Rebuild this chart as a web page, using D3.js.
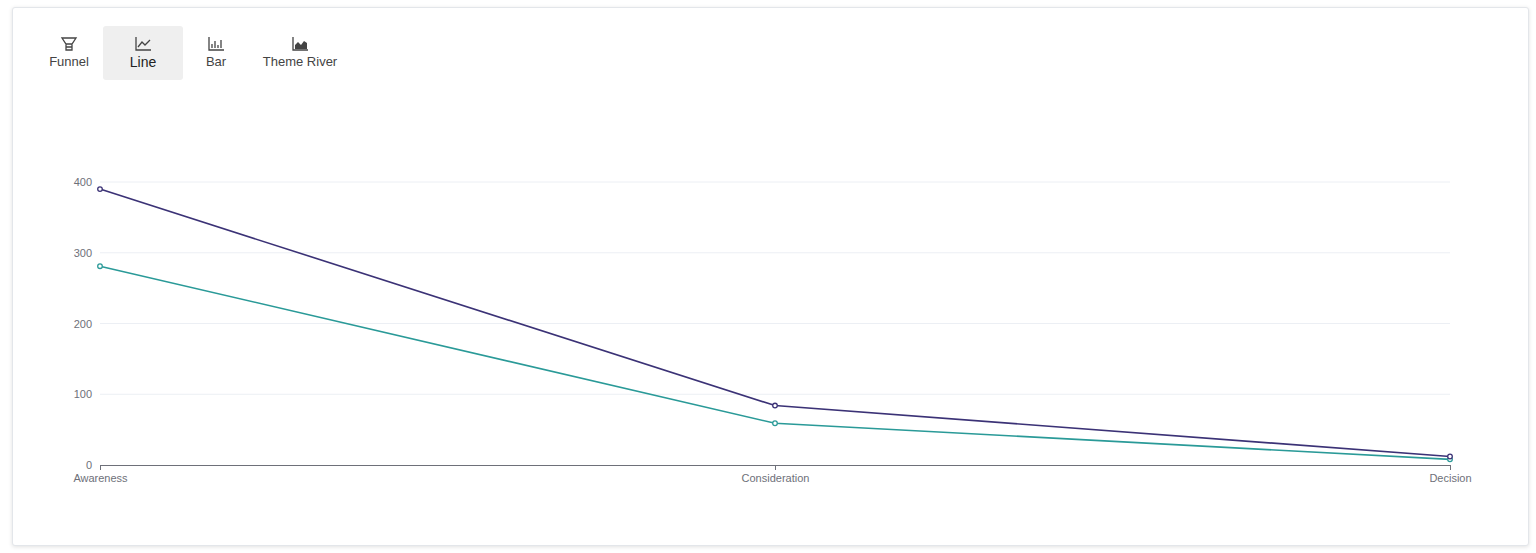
<!DOCTYPE html>
<html><head><meta charset="utf-8">
<script src="https://cdn.jsdelivr.net/npm/d3@7"></script>
<style>
body{margin:0;background:#fff;font-family:"Helvetica Neue",Arial,"Liberation Sans",sans-serif;}
#card{position:absolute;left:12px;top:7px;width:1515px;height:537px;border:1px solid #e3e6ea;border-radius:3px;box-shadow:0 1px 4px rgba(0,0,0,0.12);background:#fff;}
.tab{position:absolute;top:18px;height:54px;text-align:center;font-size:13px;color:#444;border-radius:3px;}
.tab svg{display:block;margin:10px auto 2px;}
.tab.on{background:#efefef;color:#222;font-size:14px;}
</style></head><body>
<div id="card"></div>
<svg id="chart" width="1536" height="553" style="position:absolute;left:0;top:0"></svg>
<script>
var stages = ['Awareness', 'Consideration', 'Decision'];
var seriesA = [390, 84, 12];
var seriesB = [281, 59, 8];
var yTicks = [0, 100, 200, 300, 400];
var tabs = ['Funnel', 'Line', 'Bar', 'Theme River'];
var tabX = [40, 102, 188, 252];
var tabW = [56, 80, 54, 94];

var card = d3.select('#card');
tabs.forEach(function(t, i) {
  var d = card.append('div').attr('class', 'tab' + (i == 1 ? ' on' : ''))
    .style('left', (tabX[i] - 12) + 'px').style('width', tabW[i] + 'px');
  var ic = d.append('svg').attr('width', 18).attr('height', 16);
  var g = ic.append('g').attr('stroke', '#444').attr('fill', 'none').attr('stroke-width', 1.3);
  if (i == 0) {
    g.append('path').attr('d', 'M2,2H16L12,8H6Z M6,8V14H12V8 M6,11H12');
  } else if (i == 1) {
    g.append('path').attr('d', 'M2,1V14H17 M4,11L8,6L11,9L16,4');
  } else if (i == 2) {
    g.append('path').attr('d', 'M2,1V14H17 M5,12V8 M8,12V5 M11,12V9 M14,12V4');
  } else {
    g.append('path').attr('d', 'M2,1V14H17');
    ic.append('path').attr('d', 'M4,13V9L7,6L10,9L13,5L16,7V13Z').attr('fill', '#444');
  }
  d.append('div').text(t);
});

var svg = d3.select('#chart');
var x = d3.scalePoint().domain(stages).range([100, 1450]);
var y = d3.scaleLinear().domain([0, 400]).range([465, 182]);

svg.selectAll('.grid').data(yTicks.slice(1)).enter().append('line')
  .attr('x1', 100).attr('x2', 1450).attr('y1', y).attr('y2', y)
  .attr('stroke', '#eceff4');

var ya = svg.append('g').attr('transform', 'translate(100,0)')
  .call(d3.axisLeft(y).tickValues(yTicks).tickSize(0).tickPadding(8));
ya.select('.domain').remove();
ya.selectAll('text').attr('fill', '#6e7079').style('font-size', '11px');

var xa = svg.append('g').attr('transform', 'translate(0,465)')
  .call(d3.axisBottom(x).tickSize(5).tickSizeOuter(0).tickPadding(4));
xa.select('.domain').attr('stroke', '#6e7079');
xa.selectAll('line').attr('stroke', '#6e7079');
xa.selectAll('text').attr('fill', '#6e7079').style('font-size', '11px');

var line = d3.line().x(function(d, i) { return x(stages[i]); }).y(function(d) { return y(d); });
[[seriesB, '#2a9a98'], [seriesA, '#3b3276']].forEach(function(s) {
  svg.append('path').datum(s[0]).attr('d', line).attr('fill', 'none')
    .attr('stroke', s[1]).attr('stroke-width', 1.6);
  svg.selectAll(null).data(s[0]).enter().append('circle')
    .attr('cx', function(d, i) { return x(stages[i]); }).attr('cy', y)
    .attr('r', 2.3).attr('fill', '#fff').attr('stroke', s[1]).attr('stroke-width', 1.3);
});
</script>
</body></html>
